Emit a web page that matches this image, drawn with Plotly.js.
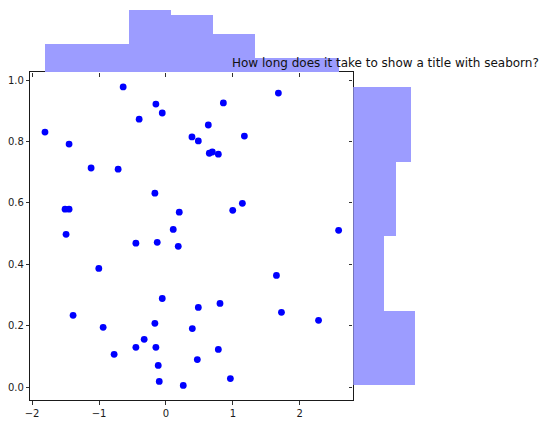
<!DOCTYPE html>
<html>
<head>
<meta charset="utf-8">
<script src="https://cdn.plot.ly/plotly-3.0.1.min.js"></script>
<style>html,body{margin:0;padding:0;background:#fff;}#chart{width:546px;height:424px;}</style>
</head>
<body>
<div id="chart"></div>
<script>
// Scatter points
const xValues = [-1.807, -0.639, -0.150, -0.055, -0.400, 0.858, 1.680, -1.447, 0.633, 0.389,
  0.484, 1.172, 0.648, 0.693, 0.783, -1.118, -0.714, -0.165, -1.507, -1.447,
  0.199, 0.998, 1.142, -1.492, 0.109, 2.580, -0.449, -0.130, 0.184, -1.003,
  1.651, -0.055, 0.808, 0.484, -1.387, 1.726, 2.280, -0.165, -0.938, 0.394,
  -0.325, -0.449, -0.150, 0.783, -0.774, 0.469, -0.115, 0.963, -0.100, 0.259];
const yValues = [0.831, 0.978, 0.922, 0.893, 0.873, 0.926, 0.958, 0.792, 0.854, 0.815,
  0.802, 0.818, 0.762, 0.766, 0.759, 0.714, 0.710, 0.632, 0.580, 0.580,
  0.570, 0.576, 0.599, 0.498, 0.514, 0.511, 0.469, 0.472, 0.459, 0.387,
  0.364, 0.289, 0.273, 0.260, 0.234, 0.244, 0.218, 0.208, 0.195, 0.191,
  0.156, 0.130, 0.130, 0.123, 0.107, 0.090, 0.071, 0.028, 0.019, 0.006];

// Marginal histogram counts
const topCounts = [6, 6, 13, 12, 8, 3, 3];
const rightCounts = [16, 8, 11, 15];

const xTicks = [-2, -1, 0, 1, 2];
const yTicks = [0.0, 0.2, 0.4, 0.6, 0.8, 1.0];
const titleText = "How long does it take to show a title with seaborn?";

(function () {
  function bins(vals, counts) {
    const lo = Math.min(...vals), hi = Math.max(...vals);
    const w = (hi - lo) / counts.length;
    return {centers: counts.map((_, i) => lo + w * (i + 0.5)), width: w, lo: lo, hi: hi};
  }
  const bx = bins(xValues, topCounts);
  const by = bins(yValues, rightCounts);
  const padX = (bx.hi - bx.lo) * 0.05, padY = (by.hi - by.lo) * 0.05;
  const xRange = [bx.lo - padX, bx.hi + padX];
  const yRange = [by.lo - padY, by.hi + padY];

  const W = 546, H = 424;
  const pxLeft = 30.3, pxRight = 353.3, pxTop = 72, pxBottom = 400.3;
  const xDom = [pxLeft / W, pxRight / W];
  const yDom = [(H - pxBottom) / H, (H - pxTop) / H];

  const dark = '#1a1a1a';
  const histColor = '#9c9cff';

  const traces = [
    {type: 'scatter', mode: 'markers', x: xValues, y: yValues, xaxis: 'x', yaxis: 'y',
     marker: {color: '#0000ff', size: 6.8}, hoverinfo: 'skip'},
    {type: 'bar', x: bx.centers, y: topCounts, width: bx.width, xaxis: 'x2', yaxis: 'y2',
     marker: {color: histColor, line: {width: 0}}, hoverinfo: 'skip'},
    {type: 'bar', orientation: 'h', y: by.centers, x: rightCounts, width: by.width, xaxis: 'x3', yaxis: 'y3',
     marker: {color: histColor, line: {width: 0}}, hoverinfo: 'skip'}
  ];

  const tickFont = {family: 'DejaVu Sans', size: 10, color: dark};
  const layout = {
    width: W, height: H,
    margin: {l: 0, r: 0, t: 0, b: 0, pad: 0},
    paper_bgcolor: '#fff', plot_bgcolor: 'rgba(0,0,0,0)',
    showlegend: false,
    bargap: 0,
    xaxis: {domain: xDom, range: xRange, anchor: 'y', tickvals: xTicks, ticks: 'outside', ticklen: 3.5,
      tickwidth: 0.9, tickcolor: dark, showline: true, linecolor: dark, linewidth: 1, mirror: true,
      showgrid: false, zeroline: false, tickfont: tickFont, fixedrange: true},
    yaxis: {domain: yDom, range: yRange, anchor: 'x', tickvals: yTicks, tickformat: '.1f', ticks: 'outside', ticklen: 3.5,
      tickwidth: 0.9, tickcolor: dark, showline: true, linecolor: dark, linewidth: 1, mirror: true,
      showgrid: false, zeroline: false, tickfont: tickFont, fixedrange: true},
    xaxis2: {domain: xDom, range: xRange, anchor: 'y2', tickvals: xTicks, ticks: 'outside', ticklen: 3.5,
      tickwidth: 0.9, tickcolor: dark, showticklabels: false, showline: false, showgrid: false, zeroline: false},
    yaxis2: {domain: [(H - pxTop) / H, 1], range: [0, pxTop / 4.75], anchor: 'x2', visible: false},
    xaxis3: {domain: [pxRight / W, 1], range: [0, (W - pxRight) / 3.87], anchor: 'y3', visible: false},
    yaxis3: {domain: yDom, range: yRange, anchor: 'x3', side: 'left', tickvals: yTicks, ticks: 'outside', ticklen: 3.5,
      tickwidth: 0.9, tickcolor: dark, showticklabels: false, showline: false, showgrid: false, zeroline: false},
    annotations: [{
      text: titleText, xref: 'paper', yref: 'paper', x: 385.9 / W, y: (H - 62.7) / H,
      xanchor: 'center', yanchor: 'middle', showarrow: false,
      font: {family: 'DejaVu Sans', size: 12, color: '#111'}
    }]
  };

  Plotly.newPlot('chart', traces, layout, {displayModeBar: false, staticPlot: true});
})();
</script>
</body>
</html>
